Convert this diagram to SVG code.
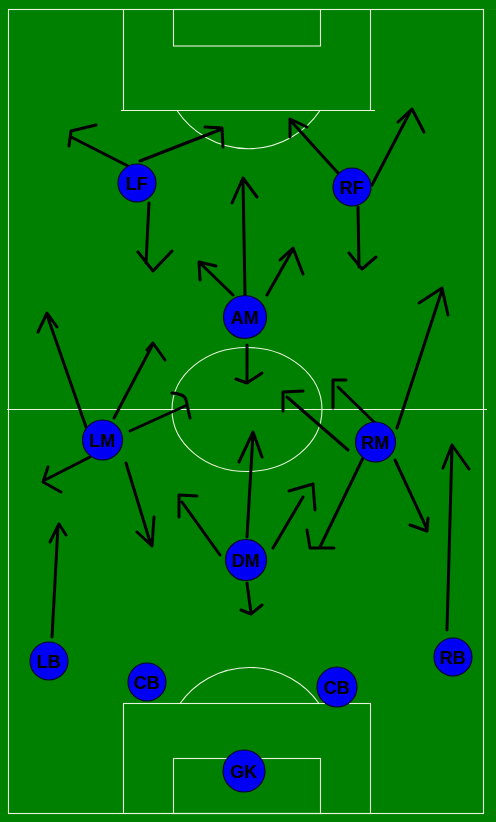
<svg xmlns="http://www.w3.org/2000/svg" width="496" height="822" viewBox="0 0 496 822">
<style>
.ln{fill:none;stroke:#e6f5dc;stroke-width:1.1}
.ar{fill:none;stroke:#000;stroke-width:3;stroke-linecap:round;stroke-linejoin:round}
.nd{fill:#0000f5;stroke:#000828;stroke-width:1.2}
.lb{font-family:"Liberation Sans","DejaVu Sans",sans-serif;font-weight:bold;font-size:18px;fill:#000;text-anchor:middle}
</style>
<rect x="0" y="0" width="496" height="822" fill="#008000"/>
<g id="pitch">
<rect class="ln" x="8.5" y="9.5" width="475" height="804"/>
<path class="ln" d="M123.5 9.5V110.5M370.5 9.5V110.5M121 110.5H375"/>
<rect class="ln" x="173.5" y="9.5" width="147" height="36.5"/>
<path class="ln" d="M177 110.5A86 86 0 0 0 320 110.5"/>
<path class="ln" d="M7 409.5H487"/>
<ellipse class="ln" cx="247" cy="409.5" rx="75" ry="62"/>
<rect class="ln" x="123.5" y="703.5" width="247" height="110"/>
<rect class="ln" x="173.5" y="758.5" width="147" height="55"/>
<path class="ln" d="M180 703.5A85 85 0 0 1 319 703.5"/>
</g>
<g id="connectors">
<path class="ar" d="M128 166L71 137M96 125L71 131L69 146"/>
<path class="ar" d="M140 161L222 129M205 127L222 128L223 147"/>
<path class="ar" d="M149 203L146 263M138 252L153 271L172 251"/>
<path class="ar" d="M245 295L243 179M232 203L243 178L257 197"/>
<path class="ar" d="M233 295L199 262M216 266L199 262L200 280"/>
<path class="ar" d="M267 295L293 249M280 260L293 248L303 274"/>
<path class="ar" d="M338 173L290 120M307 127L290 119L290 137"/>
<path class="ar" d="M372 185L411 110M398 122L412 109L424 132"/>
<path class="ar" d="M358 207L359 267M349 253L362 269L376 257"/>
<path class="ar" d="M247 345L247 382M236 379L247 383L262 373"/>
<path class="ar" d="M86 427L47 315M38 332L47 313L57 327"/>
<path class="ar" d="M114 418L153 344M147 350L153 343L165 360"/>
<path class="ar" d="M130 431L185 406M172 393Q185 394 186 400L190 418"/>
<path class="ar" d="M90 457L45 480M48 467L43 482L61 492"/>
<path class="ar" d="M126 463L151 545M137 532L152 546L154 517"/>
<path class="ar" d="M247 537L253 434M239 462L253 432L262 457"/>
<path class="ar" d="M220 555L182 502M197 496L179 495L179 517"/>
<path class="ar" d="M273 548L303 497M289 491L313 484L315 510"/>
<path class="ar" d="M348 450L287 397M303 391L283 392L283 411"/>
<path class="ar" d="M375 423L338 387M346 380L333 380L333 408"/>
<path class="ar" d="M397 428L442 290M419 303L442 288L448 315"/>
<path class="ar" d="M363 458L320 547M307 530L310 548L334 548"/>
<path class="ar" d="M395 460L427 529M410 525L427 531L428 518"/>
<path class="ar" d="M52 637L58 526M50 542L59 524L66 535"/>
<path class="ar" d="M447 630L452 447M443 468L452 445L469 469"/>
<path class="ar" d="M247 583L251 613M241 610L251 614L262 605"/>
</g>
<g id="LF"><circle class="nd" cx="137" cy="183" r="19"/><text class="lb" x="137" y="190">LF</text></g>
<g id="RF"><circle class="nd" cx="352" cy="187" r="19"/><text class="lb" x="352" y="194">RF</text></g>
<g id="AM"><circle class="nd" cx="245" cy="317" r="21.5"/><text class="lb" x="245" y="324">AM</text></g>
<g id="LM"><circle class="nd" cx="102.5" cy="440" r="20"/><text class="lb" x="102.5" y="447">LM</text></g>
<g id="RM"><circle class="nd" cx="375.5" cy="442" r="20"/><text class="lb" x="375.5" y="449">RM</text></g>
<g id="DM"><circle class="nd" cx="246" cy="560" r="20.5"/><text class="lb" x="246" y="567">DM</text></g>
<g id="LB"><circle class="nd" cx="49" cy="661" r="19"/><text class="lb" x="49" y="668">LB</text></g>
<g id="CB1"><circle class="nd" cx="147" cy="682" r="19"/><text class="lb" x="147" y="689">CB</text></g>
<g id="CB2"><circle class="nd" cx="337" cy="687" r="20"/><text class="lb" x="337" y="694">CB</text></g>
<g id="RB"><circle class="nd" cx="453" cy="657" r="19"/><text class="lb" x="453" y="664">RB</text></g>
<g id="GK"><circle class="nd" cx="244" cy="771" r="21"/><text class="lb" x="244" y="778">GK</text></g>
</svg>
